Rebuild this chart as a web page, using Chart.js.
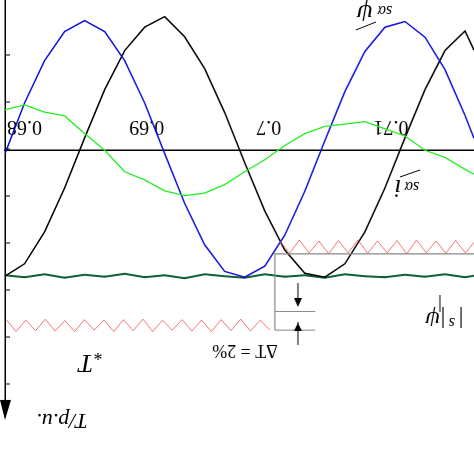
<!DOCTYPE html>
<html><head><meta charset="utf-8">
<script src="https://cdn.jsdelivr.net/npm/chart.js@4.4.1/dist/chart.umd.min.js"></script>
<style>html,body{margin:0;padding:0;background:#fff;overflow:hidden}
#wrap{width:474px;height:474px;transform:rotate(180deg)}</style></head>
<body><div id="wrap"><canvas id="c" width="474" height="474"></canvas></div>
<script>
const timeTicks=[0.68,0.69,0.70,0.71];
const tickLabels=["0.68","0.69","0.7","0.71"];
const times=[0.6784,0.68,0.68164,0.68328,0.68492,0.68656,0.6882,0.68984,0.69148,0.69311,0.69475,0.69639,0.69803,0.69967,0.70131,0.70295,0.70459,0.70623,0.70787,0.70951,0.71115,0.71279,0.71443,0.71607,0.7168];
const psiAlpha=[-0.07,0.99,1.88,2.49,2.72,2.49,1.88,0.99,-0.07,-1.11,-1.98,-2.54,-2.66,-2.43,-1.78,-0.86,0.2,1.23,2.07,2.58,2.7,2.37,1.69,0.73,0.25];
const psiBeta=[-2.64,-2.38,-1.71,-0.79,0.26,1.27,2.09,2.58,2.8,2.38,1.71,0.79,-0.26,-1.27,-2.09,-2.58,-2.66,-2.38,-1.71,-0.79,0.26,1.27,2.09,2.5,2.1];
const iAlpha=[0.85,0.95,0.8,0.72,0.35,0.0,-0.45,-0.62,-0.85,-0.95,-0.9,-0.72,-0.45,-0.2,0.1,0.35,0.5,0.55,0.6,0.45,0.3,0.0,-0.15,-0.4,-0.5];
const psiMag=[-2.62,-2.66,-2.6,-2.67,-2.61,-2.65,-2.59,-2.66,-2.62,-2.68,-2.6,-2.64,-2.67,-2.6,-2.65,-2.62,-2.67,-2.6,-2.64,-2.66,-2.61,-2.65,-2.6,-2.66,-2.63];
const redTimesL=[0.6785,0.6793,0.6801,0.6809,0.6817,0.6825,0.6833,0.6841,0.6849,0.6857,0.6865,0.6873,0.6881,0.6889,0.6897,0.6905,0.6913,0.6921,0.6929,0.6937,0.6945,0.6953,0.6961,0.6969,0.6977,0.6985,0.6993,0.7001];
const redValsL=[-3.55,-3.8,-3.56,-3.78,-3.54,-3.79,-3.57,-3.8,-3.55,-3.77,-3.56,-3.8,-3.55,-3.78,-3.54,-3.8,-3.56,-3.77,-3.55,-3.79,-3.56,-3.8,-3.55,-3.78,-3.54,-3.79,-3.56,-3.77];
const redTimesR=[0.7009,0.7017,0.7025,0.7033,0.7041,0.7049,0.7057,0.7065,0.7073,0.7081,0.7089,0.7097,0.7105,0.7113,0.7121,0.7129,0.7137,0.7145,0.7153,0.7161,0.7169];
const redValsR=[-1.9,-2.16,-1.88,-2.15,-1.9,-2.17,-1.89,-2.15,-1.88,-2.16,-1.9,-2.15,-1.89,-2.17,-1.88,-2.15,-1.9,-2.16,-1.89,-2.15,-1.9];
const refTimes=[0.7005,0.7005,0.7168];
const refVals=[-3.77,-2.17,-2.17];
const tol1Times=[0.7005,0.7038];const tol1Vals=[-3.38,-3.38];
const tol2Times=[0.7005,0.7038];const tol2Vals=[-3.77,-3.77];
const zip=(a,b)=>a.map((t,i)=>({x:t,y:b[i]}));
const ds=(d,c,w)=>({data:d,borderColor:c,borderWidth:w,pointRadius:0,tension:0,fill:false});
const P=(x,y)=>[474-x,474-y];
const deco={id:'deco',afterDraw(ch){const c=ch.ctx;c.save();c.fillStyle='#000';c.strokeStyle='#000';
 c.textAlign='center';c.textBaseline='middle';
 const txt=(s,x,y,sz,it)=>{const p=P(x,y);c.font=(it?'italic ':'')+sz+'px "Liberation Serif"';c.fillText(s,p[0],p[1]);};
 txt('ψ',365,12,26,true);txt('sα',385,10,16,true);
 txt('i',398,187,26,true);txt('sα',412,186,16,true);
 txt('|ψ',436,318,24,true);txt('s',452,322,16,true);txt('|',461,318,24,false);
 txt('T',86,362,26,true);txt('*',98,352,18,false);
 txt('ΔT = 2%',245,350,18,false);
 txt('T/p.u.',62,420,22,true);
 const line=(a,b,d,e)=>{const p=P(a,b),q=P(d,e);c.beginPath();c.moveTo(p[0],p[1]);c.lineTo(q[0],q[1]);c.stroke();};
 c.lineWidth=1;line(400,185-8,420,178-8);
 line(376,22,356,30);line(440,312,440,295);
 line(298,283,298,305);line(298,322,298,345);
 for(let yd=55;yd<400;yd+=47){line(5,yd,10,yd);}
 const tri=(pts)=>{c.beginPath();pts.forEach((q,i)=>{const p=P(q[0],q[1]);i?c.lineTo(p[0],p[1]):c.moveTo(p[0],p[1]);});c.closePath();c.fill();};
 tri([[294,298],[302,298],[298,307]]);tri([[294,331],[302,331],[298,323]]);
 tri([[0,400],[11,400],[5,420]]);
 c.restore();}};
new Chart(document.getElementById('c'),{type:'line',
 data:{datasets:[
  ds(zip(refTimes,refVals),'#888',1.2),ds(zip(tol1Times,tol1Vals),'#888',1),ds(zip(tol2Times,tol2Vals),'#888',1),
  ds(zip(redTimesL,redValsL),'#f05050',0.8),ds(zip(redTimesR,redValsR),'#f05050',0.8),
  ds(zip(times,iAlpha),'#22ee22',1.3),
  ds(zip(times,psiAlpha),'#1010dd',1.5),ds(zip(times,psiBeta),'#000',1.5),
  ds(zip(times,psiMag),'#106030',2)]},
 plugins:[deco],
 options:{responsive:false,animation:false,devicePixelRatio:1,
  layout:{padding:{top:58,right:4,left:0,bottom:0}},
  plugins:{legend:{display:false},tooltip:{enabled:false}},
  scales:{
   x:{type:'linear',reverse:true,min:0.6784,max:0.7168,position:{y:0},
    afterBuildTicks:a=>{a.ticks=timeTicks.map(v=>({value:v}));},
    grid:{display:false},border:{color:'#000',width:1.5},
    ticks:{color:'#000',font:{family:'Liberation Serif',size:20},maxRotation:0,padding:4,
     callback:(v)=>tickLabels[timeTicks.indexOf(v)]}},
   y:{type:'linear',reverse:true,min:-5.57,max:3.15,position:'right',afterFit:s=>{s.width=1;},
    grid:{display:false},border:{color:'#000',width:1.5},ticks:{display:false}}}}});
</script></body></html>
